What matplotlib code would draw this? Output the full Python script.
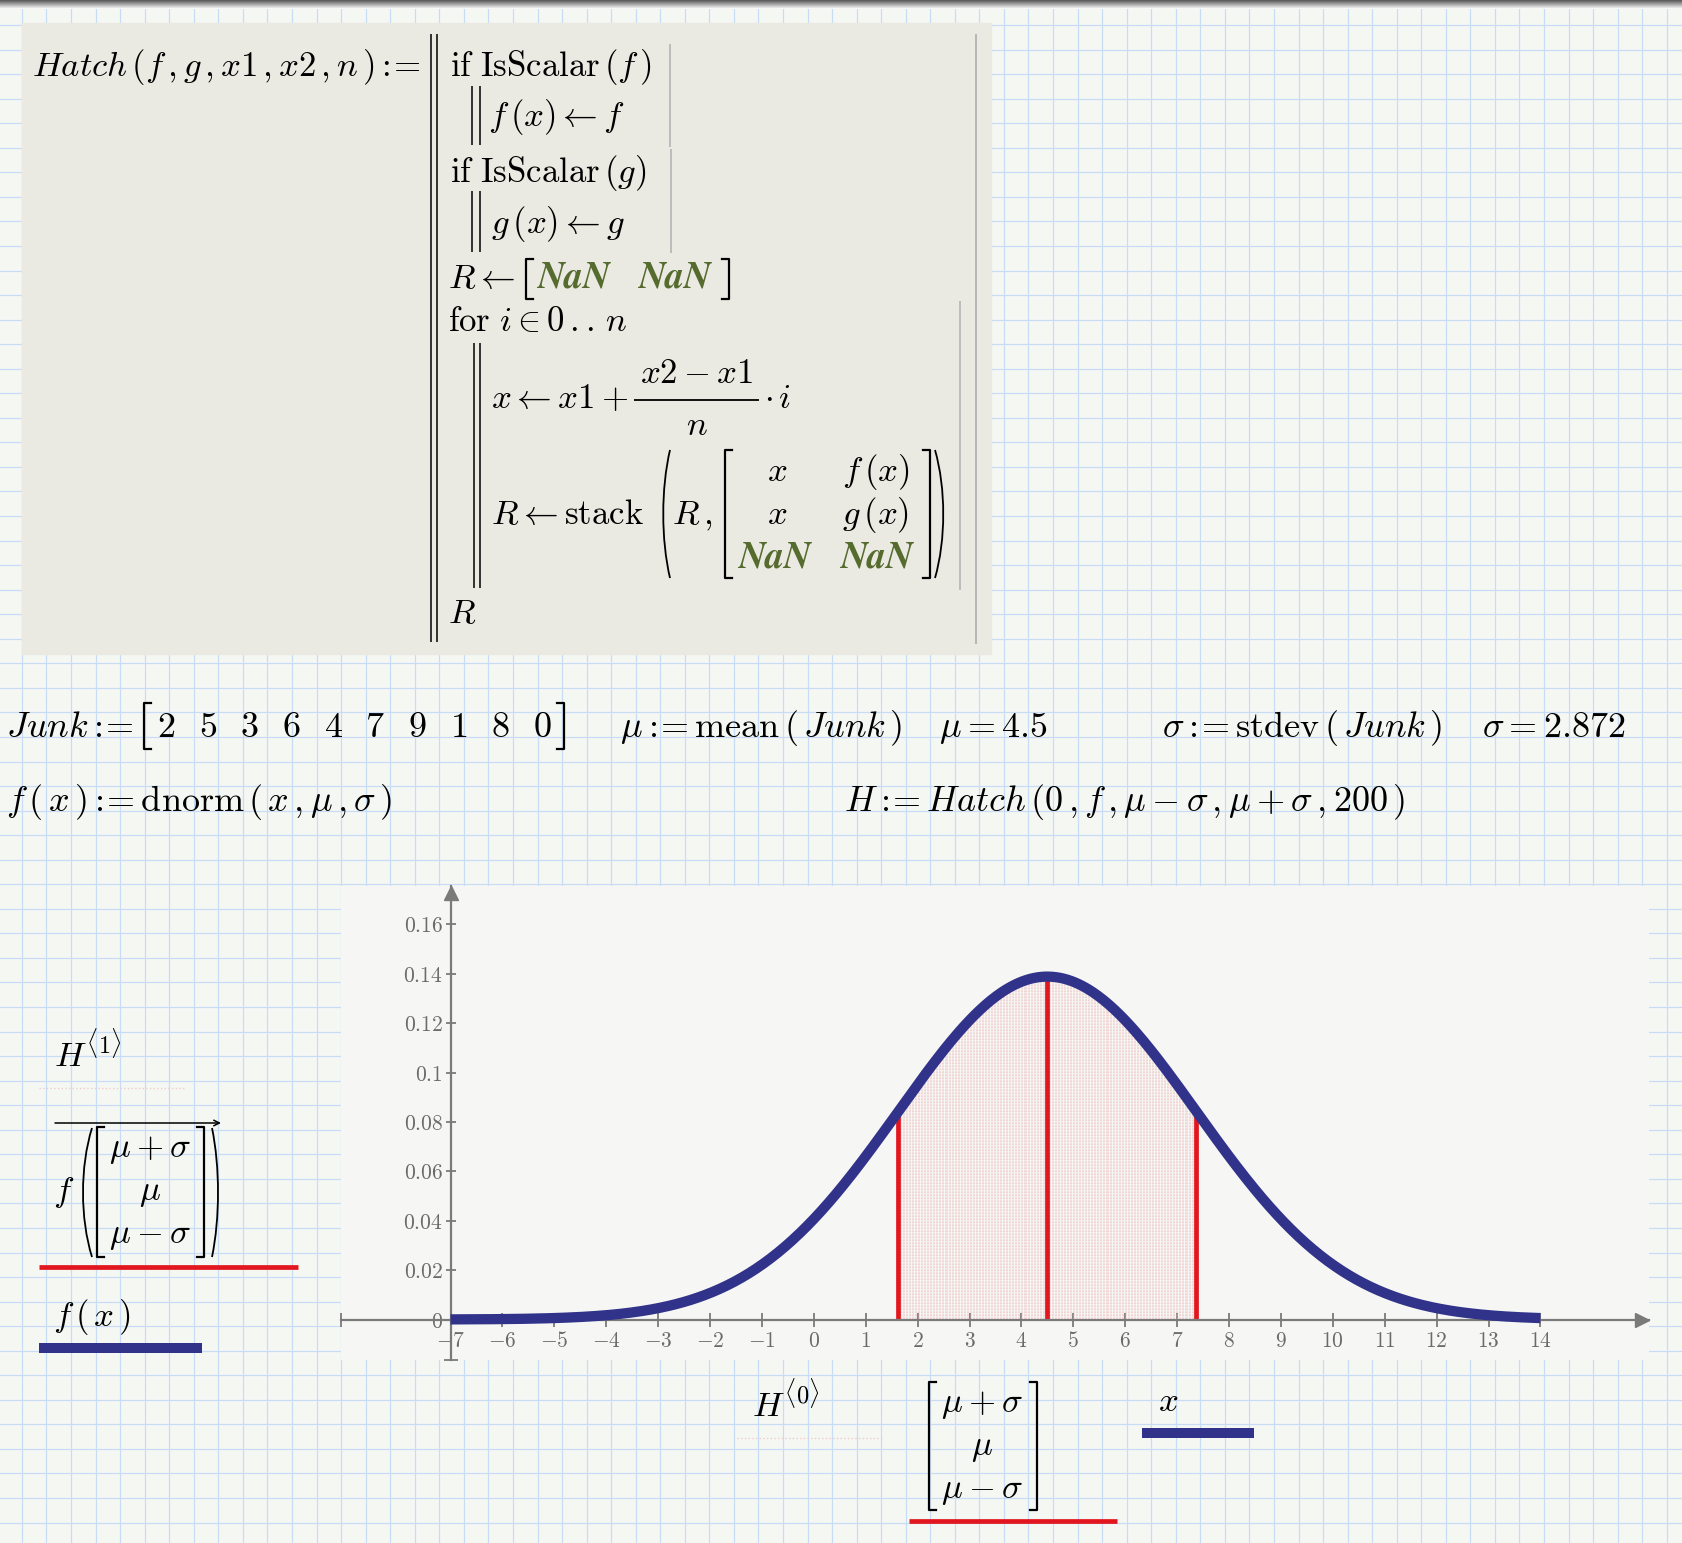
import numpy as np
import matplotlib.pyplot as plt
from matplotlib.path import Path
from matplotlib.patches import PathPatch, Rectangle
from matplotlib.ticker import FixedLocator, FuncFormatter
from matplotlib.transforms import ScaledTranslation

plt.rcParams['mathtext.fontset'] = 'cm'

# worksheet data
junk = [2, 5, 3, 6, 4, 7, 9, 1, 8, 0]
n_hatch = 200
x_from, x_to = -7, 14
x_ticks = list(range(-7, 15))
y_ticks = [0, 0.02, 0.04, 0.06, 0.08, 0.1, 0.12, 0.14, 0.16]

mu = np.mean(junk)
sigma = np.std(junk)  # Mathcad stdev = population


def f(x):
    return np.exp(-(x - mu) ** 2 / (2 * sigma ** 2)) / (sigma * np.sqrt(2 * np.pi))


def hatch(f1, g1, x1, x2, n):
    R = [[np.nan, np.nan]]
    for i in range(n + 1):
        x = x1 + (x2 - x1) / n * i
        R += [[x, f1(x)], [x, g1(x)], [np.nan, np.nan]]
    return np.array(R)


H = hatch(lambda x: 0.0, f, mu - sigma, mu + sigma, n_hatch)
marks = np.array([mu + sigma, mu, mu - sigma])

BLUE = '#31338a'
RED = '#e2161e'
GREEN = '#566b2e'
PAGE = '#f5f7f3'
FS = 25

fig = plt.figure(figsize=(16.82, 15.43), dpi=100)
fig.patch.set_facecolor(PAGE)
bg = fig.add_axes([0, 0, 1, 1])
bg.set_xlim(0, 1682)
bg.set_ylim(1543, 0)
bg.axis('off')

# grid paper
for gx in np.arange(21.95, 1682, 24.55):
    bg.plot([gx, gx], [0, 1543], color='#c8ddf5', lw=0.9, zorder=0)
for gy in np.arange(0.45, 1543, 24.55):
    bg.plot([0, 1682], [gy, gy], color='#c8ddf5', lw=0.9, zorder=0)

# top shadow
shade = np.linspace(0, 1, 10).reshape(-1, 1)
bg.imshow(shade, cmap='gray', extent=(0, 1682, 9, 0), aspect='auto',
          vmin=-0.6, vmax=1.05, zorder=1)

# code region
bg.add_patch(Rectangle((22, 23), 969, 631, color='#eaeae2', zorder=1))


def T(x, y, s, size=FS, color='k', ha='left', **kw):
    bg.text(x, y, s, fontsize=size, color=color, ha=ha, va='baseline', zorder=5, **kw)


def NAN(x, y, ha='left'):
    bg.text(x, y, 'NaN', fontsize=27, color=GREEN, ha=ha, va='baseline',
            family='STIXGeneral', style='italic', weight='bold', zorder=5)


def vline(x, y0, y1, color='k', lw=1.1):
    bg.plot([x, x], [y0, y1], color=color, lw=lw, zorder=4, solid_capstyle='butt')


def hline(x0, x1, y, color='k', lw=1.1, **kw):
    bg.plot([x0, x1], [y, y], color=color, lw=lw, zorder=4, solid_capstyle='butt', **kw)


def bracket(x, yt, yb, w=7, left=True, lw=1.6):
    d = w if left else -w
    bg.plot([x + d, x, x, x + d], [yt, yt, yb, yb], color='k', lw=lw, zorder=4)


def paren(xl, xr, yt, yb, left=True, lw=1.3):
    h = yb - yt
    if left:
        pts = [(xr, yt), (xl, yt + 0.3 * h), (xl, yb - 0.3 * h), (xr, yb)]
    else:
        pts = [(xl, yt), (xr, yt + 0.3 * h), (xr, yb - 0.3 * h), (xl, yb)]
    p = Path(pts, [Path.MOVETO, Path.CURVE4, Path.CURVE4, Path.CURVE4])
    bg.add_patch(PathPatch(p, fill=False, lw=lw, color='k', zorder=4))


DEF = r':\!\!='

# ---- Hatch program ----
T(32, 76, r'$Hatch\,(f\,,g\,,x1\,,x2\,,n\,)' + DEF + '$')
vline(431, 34, 642)
vline(437.5, 34, 642)
vline(976, 34, 644, color='#a8a8a8')

T(450, 76, r'$\mathrm{if\ IsScalar}\,(f\,)$')
vline(670, 44, 147, color='#b0b0b0')
vline(472, 86, 145)
vline(480, 86, 145)
T(488, 126, r'$f\,(x)\leftarrow f$')

T(450, 182, r'$\mathrm{if\ IsScalar}\,(g)$')
vline(671.5, 149, 253, color='#b0b0b0')
vline(472, 191, 252)
vline(480, 191, 252)
T(491, 233, r'$g\,(x)\leftarrow g$')

T(448, 288, r'$R\leftarrow$')
bracket(526, 259, 299)
NAN(537, 288)
NAN(638, 288)
bracket(729, 259, 299, left=False)

T(448, 331, r'$\mathrm{for}\ i\in0\,..\,n$')
vline(960, 301, 590, color='#b0b0b0')
vline(474, 343, 588)
vline(480.5, 343, 588)

T(491, 408, r'$x\leftarrow x1+$')
T(696.5, 383, r'$x2-x1$', ha='center')
hline(634, 759, 400, lw=1.3)
T(697, 435, r'$n$', ha='center')
T(764, 408, r'$\cdot\, i$')

T(491, 524, r'$R\leftarrow\mathrm{stack}$')
paren(661, 670, 450, 578)
T(672, 524, r'$R\,,$')
bracket(725, 450, 578)
T(777, 481, r'$x$', ha='center')
T(876, 481, r'$f\,(x)$', ha='center')
T(777, 524, r'$x$', ha='center')
T(876, 524, r'$g\,(x)$', ha='center')
NAN(775, 567, ha='center')
NAN(877, 567, ha='center')
bracket(930, 450, 578, left=False)
paren(935, 946, 450, 578, left=False)

T(448, 623, r'$R$')

# ---- definitions ----
T(6, 737, r'$Junk' + DEF + '$', size=26)
bracket(144, 703, 749)
for k, v in enumerate(junk):
    T(166 + 41.8 * k, 737, r'$%d$' % v, ha='center', size=26)
bracket(564, 703, 749, left=False)
T(620, 737, r'$\mu' + DEF + r'\mathrm{mean}\,(\,Junk\,)$', size=26)
T(939, 737, r'$\mu=%g$' % round(mu, 3), size=26)
T(1162, 737, r'$\sigma' + DEF + r'\mathrm{stdev}\,(\,Junk\,)$', size=26)
T(1482, 737, r'$\sigma=%.3f$' % sigma, size=26)
T(6, 811, r'$f\,(\,x\,)' + DEF + r'\mathrm{dnorm}\,(\,x\,,\mu\,,\sigma\,)$', size=26)
T(844, 811, r'$H' + DEF + r'Hatch\,(0\,,f\,,\mu-\sigma\,,\mu+\sigma\,,%d\,)$' % n_hatch, size=26)

# ---- y-axis legend ----
T(54, 1067, r'$H^{\langle 1\rangle}$')
hline(39, 186, 1088, color='#f0cccc', lw=1, linestyle=':')
bg.annotate('', xy=(221, 1123), xytext=(55, 1123),
            arrowprops=dict(arrowstyle='->', lw=1.1, color='k', shrinkA=0, shrinkB=0), zorder=4)
T(53, 1201, r'$f$')
paren(80, 92, 1128, 1257)
bracket(97, 1127, 1257)
T(150, 1157, r'$\mu+\sigma$', ha='center')
T(150, 1200, r'$\mu$', ha='center')
T(150, 1243, r'$\mu-\sigma$', ha='center')
bracket(204, 1127, 1257, left=False)
paren(212, 220, 1128, 1257, left=False)
hline(39, 298, 1267, color=RED, lw=3.4)
T(53, 1326, r'$f\,(\,x\,)$')
hline(39, 202, 1348, color=BLUE, lw=7.2)

# ---- x-axis legend ----
T(752, 1417, r'$H^{\langle 0\rangle}$')
hline(737, 883, 1438, color='#f0cccc', lw=1, linestyle=':')
bracket(929, 1382, 1510)
T(982, 1412, r'$\mu+\sigma$', ha='center')
T(982, 1455, r'$\mu$', ha='center')
T(982, 1498, r'$\mu-\sigma$', ha='center')
bracket(1037, 1382, 1510, left=False)
hline(909, 1117, 1521, color=RED, lw=3.4)
T(1168, 1411, r'$x$', ha='center')
hline(1142, 1254, 1433, color=BLUE, lw=7.2)

# ---- plot ----
W, Hh = 1682, 1543
ax = fig.add_axes([341 / W, 1 - 1360 / Hh, (1649 - 341) / W, (1360 - 886) / Hh])
ax.set_facecolor('#f6f7f4')
ax.set_xlim(-9.11, 16.092)
ax.set_ylim(-0.0164, 0.17559)

ax.plot(H[:, 0], H[:, 1], color='#eab0b0', lw=0.45, linestyle=(0, (1.2, 1.2)), zorder=2)
ax.vlines(marks, 0, f(marks), color=RED, lw=3.4, zorder=2.2)
xc = np.linspace(x_from, x_to, 600)
ax.plot(xc, f(xc), color=BLUE, lw=7.4, solid_capstyle='butt', zorder=3)

GRAY = '#7a7a7a'
for s in ['top', 'right']:
    ax.spines[s].set_visible(False)
ax.spines['left'].set_position(('data', -7))
ax.spines['bottom'].set_position(('data', 0))
for s in ['left', 'bottom']:
    ax.spines[s].set_color(GRAY)
    ax.spines[s].set_linewidth(1.6)

ax.xaxis.set_major_locator(FixedLocator(x_ticks))
ax.yaxis.set_major_locator(FixedLocator(y_ticks))
ax.xaxis.set_major_formatter(FuncFormatter(lambda v, p: r'$%d$' % v))
ax.yaxis.set_major_formatter(FuncFormatter(lambda v, p: r'$%g$' % v))
ax.tick_params(axis='x', direction='inout', length=10, width=1.3, color=GRAY,
               labelcolor='#6b6b6b', labelsize=15.5, pad=3)
ax.tick_params(axis='y', direction='inout', length=7, width=1.3, color=GRAY,
               labelcolor='#6b6b6b', labelsize=15.5, pad=2)

# axis arrows and end bars
ms = 9.5
off = ms / 2 / 72
ax.plot([1], [0], marker='>', ms=ms, color=GRAY, clip_on=False, zorder=4,
        transform=ax.get_yaxis_transform() + ScaledTranslation(-off, 0, fig.dpi_scale_trans))
ax.plot([-7], [1], marker='^', ms=ms, color=GRAY, clip_on=False, zorder=4,
        transform=ax.get_xaxis_transform() + ScaledTranslation(0, -off, fig.dpi_scale_trans))
ax.plot([0], [0], marker='|', ms=10, mew=1.3, color=GRAY, transform=ax.get_yaxis_transform(),
        clip_on=False, zorder=4)
ax.plot([-7], [0], marker='_', ms=10, mew=1.3, color=GRAY, transform=ax.get_xaxis_transform(),
        clip_on=False, zorder=4)

fig.savefig('out.png', dpi=100, facecolor=PAGE)
